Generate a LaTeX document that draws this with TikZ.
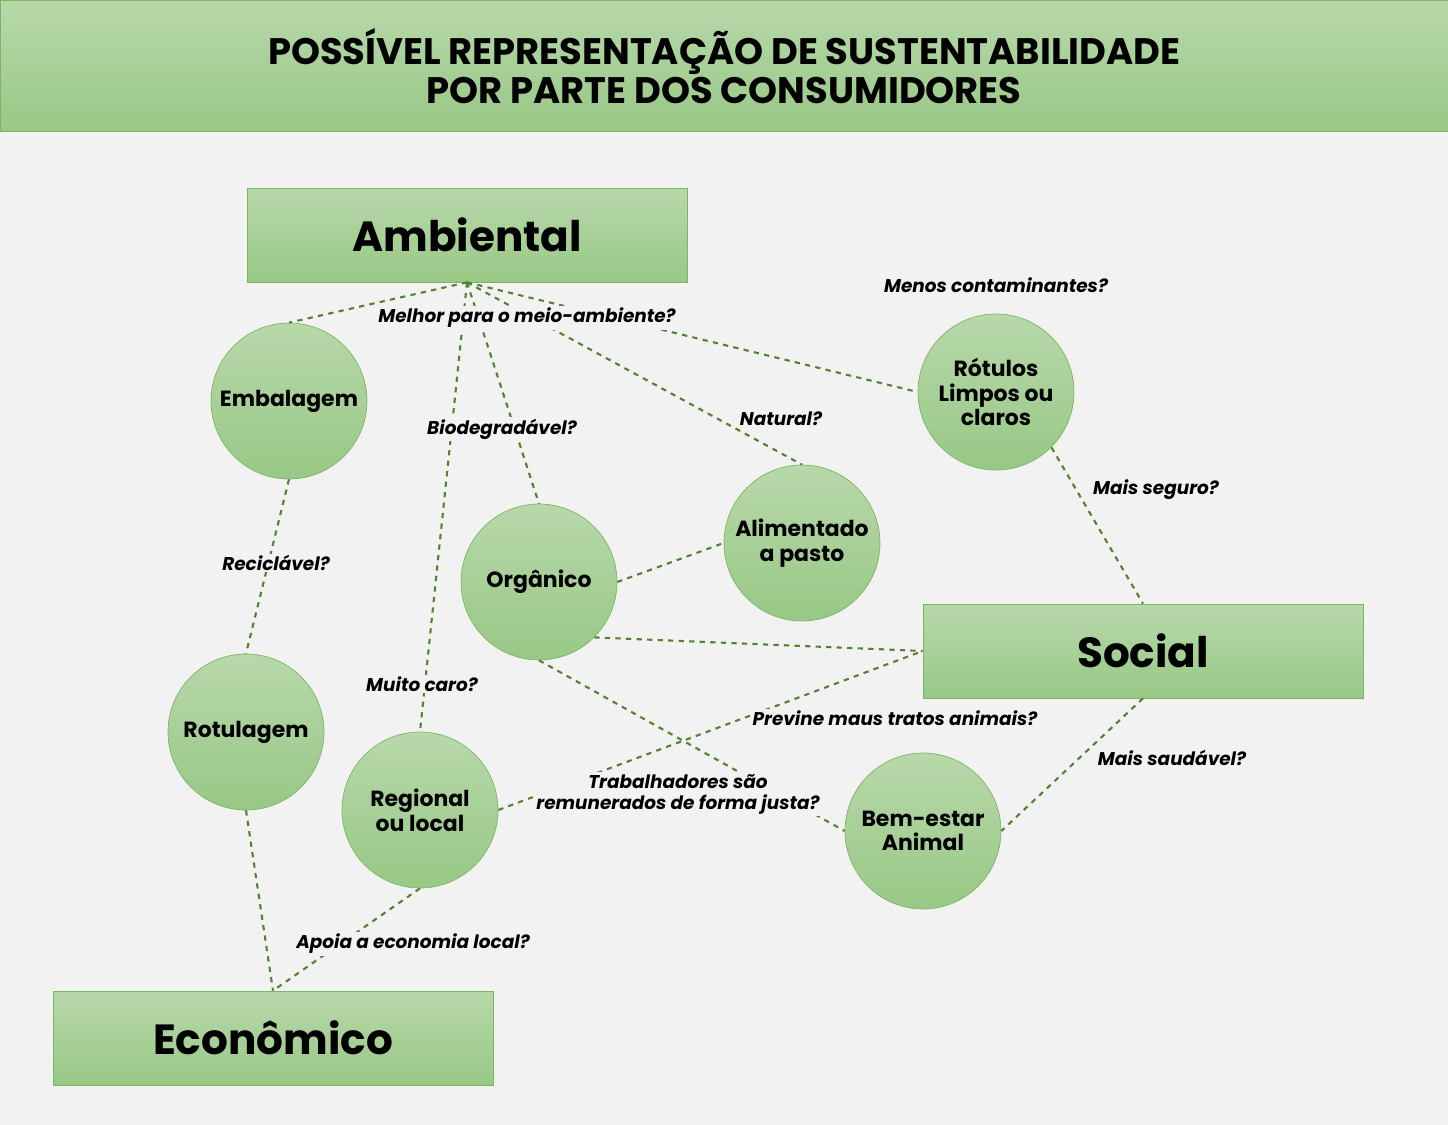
\documentclass[tikz,border=0pt]{standalone}
\usepackage{fontspec}
\setmainfont{Poppins}
\usetikzlibrary{positioning}
\definecolor{bgc}{HTML}{F2F2F2}
\definecolor{gtop}{HTML}{B8D8AA}
\definecolor{gbot}{HTML}{98C886}
\definecolor{gline}{HTML}{7CB663}
\definecolor{dashgreen}{HTML}{548235}
\tikzset{
  pillar/.style={draw=gline,top color=gtop,bottom color=gbot,minimum width=8.8cm,
    minimum height=1.88cm,font=\fontsize{24}{28}\selectfont\bfseries},
  topic/.style={circle,draw=gline,top color=gtop,bottom color=gbot,minimum size=3.12cm,
    inner sep=0pt,align=center,font=\fontsize{12.5}{14}\selectfont\bfseries},
  link/.style={draw=dashgreen,dashed,line width=1.2pt},
  ask/.style={fill=bgc,inner sep=1pt,align=center,font=\fontsize{10.5}{12}\selectfont\bfseries\itshape}
}
\begin{document}
\begin{tikzpicture}[x=0.02cm,y=-0.02cm]
  \fill[bgc] (0,0) rectangle (1448,1125);
  \useasboundingbox (0,0) rectangle (1448,1125);
  % title
  \node[draw=gline,top color=gtop,bottom color=gbot,minimum width=28.96cm,minimum height=2.62cm,
    align=center,font=\fontsize{21}{22}\selectfont\bfseries,anchor=north west] (title) at (0,0)
    {POSSÍVEL REPRESENTAÇÃO DE SUSTENTABILIDADE\\POR PARTE DOS CONSUMIDORES};
  % pillars
  \node[pillar] (amb) at (467,235) {Ambiental};
  \node[pillar] (soc) at (1143,651) {Social};
  \node[pillar] (eco) at (273,1038) {Econômico};
  % topics
  \node[topic] (emb) at (289,401) {Embalagem};
  \node[topic] (rot) at (246,732) {Rotulagem};
  \node[topic] (reg) at (420,810) {Regional\\ou local};
  \node[topic] (org) at (539,582) {Orgânico};
  \node[topic] (pasto) at (802,543) {Alimentado\\a pasto};
  \node[topic] (limpo) at (996,392) {Rótulos\\Limpos ou\\claros};
  \node[topic] (bem) at (923,831) {Bem-estar\\Animal};
  % links
  \draw[link] (amb.south) -- (emb.north);
  \draw[link] (amb.south) -- (reg.north);
  \draw[link] (amb.south) -- (org.north);
  \draw[link] (amb.south) -- (pasto.north);
  \draw[link] (amb.south) -- (limpo.west);
  \draw[link] (emb.south) -- (rot.north);
  \draw[link] (rot.south) -- (eco.north);
  \draw[link] (reg.south) -- (eco.north);
  \draw[link] (org.east) -- (pasto.west);
  \draw[link] (org.-45) -- (soc.west);
  \draw[link] (org.south) -- (bem.west);
  \draw[link] (reg.east) -- (soc.west);
  \draw[link] (limpo.-45) -- (soc.north);
  \draw[link] (soc.south) -- (bem.east);
  % questions
  \node[ask] (q1) at (527,318) {Melhor para o meio-ambiente?};
  \node[ask] (q2) at (996,285) {Menos contaminantes?};
  \node[ask] (q3) at (781,419) {Natural?};
  \node[ask] (q4) at (502,429) {Biodegradável?};
  \node[ask] (q5) at (276,563) {Reciclável?};
  \node[ask] (q6) at (1156,490) {Mais seguro?};
  \node[ask] (q7) at (422,684) {Muito caro?};
  \node[ask] (q8) at (895,718) {Previne maus tratos animais?};
  \node[ask] (q9) at (1172,758) {Mais saudável?};
  \node[ask] (q10) at (678,794) {Trabalhadores são\\remunerados de forma justa?};
  \node[ask] (q11) at (413,944) {Apoia a economia local?};
\end{tikzpicture}
\end{document}
